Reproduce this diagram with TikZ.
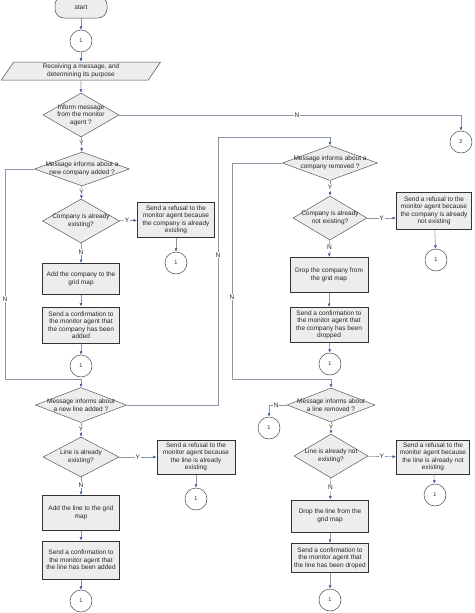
\documentclass[tikz,border=0pt]{standalone}
\usepackage{fontspec}
\setmainfont{Liberation Sans}
\usetikzlibrary{
  arrows.meta,
  positioning,
  shapes.geometric
}
\definecolor{boxfill}{HTML}{EDEDED}
\definecolor{linec}{HTML}{8A96A8}
\definecolor{tipc}{HTML}{3A5A9A}

\begin{document}
\begin{tikzpicture}[
            x=1pt, y=-1pt,
            font=\fontsize{6.5}{7.4}\selectfont,
            text=black!85,
            startstop/.style={rectangle, rounded corners=9pt, minimum width=52pt, minimum height=22pt, draw=black!70, line width=0.5pt, fill=boxfill},
            process/.style={rectangle, minimum width=77pt, inner sep=1.5pt, align=center, draw=black!80, line width=1pt, fill=boxfill},
            decision/.style={diamond, inner sep=0pt, draw=black!65, line width=0.5pt, fill=boxfill},
            dtext/.style={align=center, inner sep=0pt},
            io/.style={trapezium, trapezium left angle=65, trapezium right angle=115, trapezium stretches=true, minimum width=160pt, minimum height=18pt, align=center, inner sep=1pt, draw=black!70, line width=0.5pt, fill=boxfill},
            conn/.style={circle, minimum size=22pt, inner sep=0pt, draw=black!70, line width=0.5pt, fill=white, font=\fontsize{5.5}{6}\selectfont},
            arrow/.style={draw=linec, line width=0.6pt, -{Latex[length=3.5pt,width=3pt,color=tipc]}},
            lbl/.style={fill=white, inner sep=0.8pt}
        ]
        \useasboundingbox (0,0) rectangle (474,613);

        % Nodes - top
        \node (start) [startstop] at (81,7) {start};
        \node (c1) [conn] at (81,41) {1};
        \node (recv) [io] at (81,71) {Receiving a message, and\\determining its purpose};
        \node (inform) [decision, minimum width=76pt, minimum height=44pt, label={[dtext]center:{Inform message\\from the monitor\\agent ?}}] at (81,115) {};
        \node (c2) [conn] at (461,142) {2};

        % Left column: company added / line added
        \node (newco) [decision, minimum width=95pt, minimum height=34pt, label={[dtext]center:{Message informs about a\\new company added ?}}] at (82,169) {};
        \node (coexists) [decision, minimum width=77pt, minimum height=44pt, label={[dtext]center:{Company is already\\existing?}}] at (81,221) {};
        \node (refco) [process, minimum height=35pt] at (176,220) {Send a refusal to the\\monitor agent because\\the company is already\\existing};
        \node (c3) [conn] at (176,263) {1};
        \node (addco) [process, minimum height=31pt] at (81,279) {Add the company to the\\grid map};
        \node (confadd) [process, minimum height=36pt] at (81,325) {Send a confirmation to\\the monitor agent that\\the company has been\\added};
        \node (c4) [conn] at (81,366) {1};

        \node (newline) [decision, minimum width=91pt, minimum height=35pt, label={[dtext]center:{Message informs about\\a new line added ?}}] at (81,405) {};
        \node (lnexists) [decision, minimum width=76pt, minimum height=40pt, label={[dtext]center:{Line is already\\existing?}}] at (81,457) {};
        \node (refln) [process, minimum width=78pt, minimum height=34pt] at (196,457) {Send a refusal to the\\monitor agent because\\the line is already\\existing};
        \node (c5) [conn] at (196,499) {1};
        \node (addln) [process, minimum height=35pt] at (81,513) {Add the line to the grid\\map};
        \node (confln) [process, minimum height=38pt] at (81,560) {Send a confirmation to\\the monitor agent that\\the line has been added};
        \node (c6) [conn] at (81,601) {1};

        % Right column: company removed / line removed
        \node (remco) [decision, minimum width=95pt, minimum height=35pt, label={[dtext]center:{Message informs about a\\company removed ?}}] at (330,163) {};
        \node (conotex) [decision, minimum width=74pt, minimum height=44pt, label={[dtext]center:{Company is already\\not existing?}}] at (330,218) {};
        \node (refnot) [process, minimum width=75pt, minimum height=37pt] at (434,211) {Send a refusal to the\\monitor agent because\\the company is already\\not existing};
        \node (c7) [conn] at (436,260) {1};
        \node (dropco) [process, minimum width=78pt, minimum height=35pt] at (329,275) {Drop the company from\\the grid map};
        \node (confdrop) [process, minimum width=78pt, minimum height=35pt] at (329,325) {Send a confirmation to\\the monitor agent that\\the company has been\\dropped};
        \node (c8) [conn] at (330,364) {1};

        \node (remln) [decision, minimum width=88pt, minimum height=34pt, label={[dtext]center:{Message informs about\\a line removed ?}}] at (331,405) {};
        \node (c9) [conn] at (269,428) {1};
        \node (lnnot) [decision, minimum width=74pt, minimum height=44pt, label={[dtext]center:{Line is already not\\existing?}}] at (331,456) {};
        \node (refnotln) [process, minimum width=73pt, minimum height=34pt] at (433,457) {Send a refusal to the\\monitor agent because\\the line is already not\\existing};
        \node (c10) [conn] at (435,495) {1};
        \node (dropln) [process, minimum height=32pt] at (330,516) {Drop the line from the\\grid map};
        \node (confdropln) [process, minimum height=29pt] at (330,558) {Send a confirmation to\\the monitor agent that\\the line has been droped};
        \node (c11) [conn] at (330,600) {1};

        % Bends
        \coordinate (bendA) at (5,379);
        \coordinate (bendB) at (218,137);
        \coordinate (bendC) at (232,379);

        % Connections - top
        \draw [arrow] (start) -- (c1);
        \draw [arrow] (c1) -- (recv);
        \draw [arrow] (recv) -- (inform);
        \draw [arrow] (inform) -- node[lbl, pos=0.45] {Y} (newco);
        \draw [arrow] (inform.east) -| node[lbl, pos=0.26] {N} (c2);

        % Company added
        \draw [arrow] (newco) -- node[lbl, pos=0.45] {Y} (coexists);
        \draw [arrow] (coexists) -- node[lbl, pos=0.45] {Y} (refco);
        \draw [arrow] (refco) -- (c3);
        \draw [arrow] (coexists) -- node[lbl, pos=0.45] {N} (addco);
        \draw [arrow] (addco) -- (confadd);
        \draw [arrow] (confadd) -- (c4);
        \draw [arrow] (newco.west) -| node[lbl, pos=0.81] {N} (bendA) -| (newline.north);

        % Line added
        \draw [arrow] (newline) -- node[lbl, pos=0.45] {Y} (lnexists);
        \draw [arrow] (lnexists) -- node[lbl, pos=0.5] {Y} (refln);
        \draw [arrow] (refln) -- (c5);
        \draw [arrow] (lnexists) -- node[lbl, pos=0.45] {N} (addln);
        \draw [arrow] (addln) -- (confln);
        \draw [arrow] (confln) -- (c6);
        \draw [arrow] (newline.east) -| node[lbl, pos=0.78] {N} (bendB) -| (remco.north);

        % Company removed
        \draw [arrow] (remco) -- node[lbl, pos=0.45] {Y} (conotex);
        \draw [arrow] (conotex.east) -- node[lbl, pos=0.5] {Y} (conotex.east -| refnot.west);
        \draw [arrow] (refnot) -- (c7);
        \draw [arrow] (conotex) -- node[lbl, pos=0.45] {N} (dropco);
        \draw [arrow] (dropco) -- (confdrop);
        \draw [arrow] (confdrop) -- (c8);
        \draw [arrow] (remco.west) -| node[lbl, pos=0.81] {N} (bendC) -| (remln.north);

        % Line removed
        \draw [arrow] (remln.west) -| node[lbl, pos=0.3] {N} (c9);
        \draw [arrow] (remln) -- node[lbl, pos=0.45] {Y} (lnnot);
        \draw [arrow] (lnnot) -- node[lbl, pos=0.5] {Y} (refnotln);
        \draw [arrow] (refnotln) -- (c10);
        \draw [arrow] (lnnot) -- node[lbl, pos=0.45] {N} (dropln);
        \draw [arrow] (dropln) -- (confdropln);
        \draw [arrow] (confdropln) -- (c11);

    \end{tikzpicture}
\end{document}
